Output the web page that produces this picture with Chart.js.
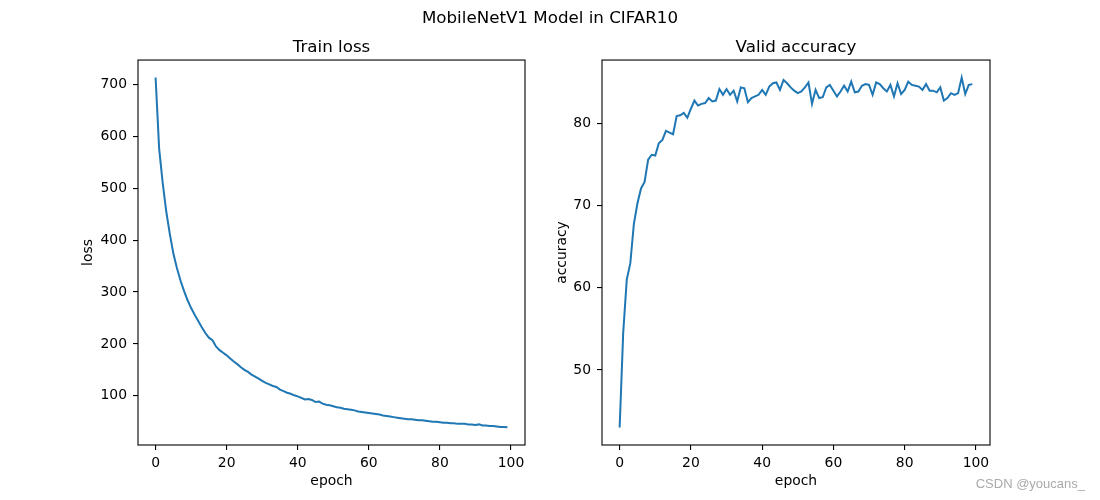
<!DOCTYPE html>
<html>
<head>
<meta charset="utf-8">
<script src="https://cdn.jsdelivr.net/npm/chart.js@4.4.0/dist/chart.umd.min.js"></script>
<style>
  body { margin: 0; background: #fff; }
  #marco { position: relative; width: 1100px; height: 500px; font-family: "DejaVu Sans"; }
  #titulo { position: absolute; top: 7px; left: 0; width: 1100px; text-align: center; font-size: 16.7px; line-height: 20px; color: #000; }
  #marca { position: absolute; top: 476px; right: 15px; font-family: "Liberation Sans"; font-size: 13px; color: #aaa; }
  canvas { position: absolute; top: 0; }
</style>
</head>
<body>
<div id="marco">
  <canvas id="graficoLoss" width="550" height="500" style="left:0px"></canvas>
  <canvas id="graficoAcc" width="550" height="500" style="left:550px"></canvas>
  <div id="titulo">MobileNetV1 Model in CIFAR10</div>
  <div id="marca">CSDN @youcans_</div>
</div>
<script>
// datos
var epocas = [];
for (let i = 0; i < 100; i++) { epocas.push(i); }

var trainLoss = [
  713, 576, 510, 455, 412, 374, 346, 322, 302, 284,
  269, 256, 244, 232, 221, 212, 207, 195, 188, 183,
  178, 172, 166, 161, 155, 150, 146, 141, 137, 133,
  129, 125, 122, 119, 117, 112, 109, 106, 104, 101,
  99, 96, 93, 94, 92, 88, 89, 85, 83, 82,
  80, 78, 77, 75, 74, 73, 72, 70, 69, 68,
  67, 66, 65, 64, 62, 61, 60, 59, 58, 57,
  56, 55, 55, 54, 53, 53, 52, 51, 50, 50,
  49, 48, 48, 47, 47, 46, 46, 46, 45, 45,
  44, 45, 43, 43, 42, 42, 41, 40, 40, 39.5
];

var validAcc = [
  43.0, 54.5, 61.0, 63.0, 67.8, 70.3, 72.1, 72.9, 75.6, 76.2,
  76.1, 77.6, 78.0, 79.1, 78.9, 78.7, 80.9, 81.0, 81.3, 80.7,
  81.8, 82.8, 82.2, 82.4, 82.5, 83.1, 82.7, 82.8, 84.2, 83.5,
  84.2, 83.5, 84.0, 82.7, 84.4, 84.3, 82.6, 83.1, 83.3, 83.5,
  84.1, 83.5, 84.5, 84.9, 85.0, 84.1, 85.3, 84.9, 84.4, 84.0,
  83.7, 83.9, 84.4, 85.0, 82.4, 84.1, 83.1, 83.2, 84.4, 84.7,
  84.0, 83.3, 83.9, 84.6, 83.9, 85.1, 83.8, 83.9, 84.6, 84.8,
  84.7, 83.5, 85.0, 84.8, 84.3, 83.9, 84.7, 83.3, 84.9, 83.6,
  84.1, 85.1, 84.7, 84.6, 84.5, 84.1, 84.8, 84.0, 84.0, 83.8,
  84.4, 82.8, 83.1, 83.7, 83.5, 83.7, 85.6, 83.6, 84.7, 84.8
];

var ticksEpoca = [0, 20, 40, 60, 80, 100];
var ticksLoss = [100, 200, 300, 400, 500, 600, 700];
var ticksAcc = [50, 60, 70, 80];

var azul = '#1f77b4';
var fuente = 'DejaVu Sans';

// marco negro alrededor del area (como matplotlib)
var marcoEjes = {
  id: 'marcoEjes',
  afterDraw: function (chart) {
    var a = chart.chartArea;
    var ctx = chart.ctx;
    ctx.save();
    ctx.strokeStyle = '#000';
    ctx.lineWidth = 1.1;
    ctx.strokeRect(a.left, a.top, a.right - a.left, a.bottom - a.top);
    ctx.restore();
  }
};

function puntos(xs, ys) {
  let res = [];
  for (let i = 0; i < xs.length; i++) {
    res.push({ x: xs[i], y: ys[i] });
  }
  return res;
}

function fijarTicks(lista) {
  return function (scale) {
    scale.ticks = lista.map(function (v) { return { value: v }; });
  };
}

function grafico(ctxRef, titulo, nombreY, valores, ticksY, yMin, yMax, anchoY, derecha, padTituloY) {
  return new Chart(ctxRef, {
    type: 'line',
    data: {
      datasets: [{
        data: puntos(epocas, valores),
        borderColor: azul,
        borderWidth: 2,
        pointRadius: 0,
        tension: 0,
        fill: false
      }]
    },
    plugins: [marcoEjes],
    options: {
      responsive: false,
      animation: false,
      devicePixelRatio: 1,
      layout: { padding: { left: 0, right: derecha, top: 0, bottom: 0 } },
      plugins: {
        legend: { display: false },
        tooltip: { enabled: false },
        title: {
          display: true,
          text: titulo,
          fullSize: false,
          color: '#000',
          font: { family: fuente, size: 16.7, weight: 'normal' },
          padding: { top: 38, bottom: 2 }
        }
      },
      scales: {
        x: {
          type: 'linear',
          min: -4.95,
          max: 103.95,
          afterBuildTicks: fijarTicks(ticksEpoca),
          afterFit: function (scale) { scale.height = 55; },
          border: { display: false },
          grid: { display: true, drawOnChartArea: false, drawTicks: true, tickLength: 5, color: '#000', lineWidth: 1.1 },
          ticks: { color: '#000', padding: 5, maxRotation: 0, font: { family: fuente, size: 13.9 } },
          title: { display: true, text: 'epoch', color: '#000', font: { family: fuente, size: 13.9 }, padding: { top: 0, bottom: 10 } }
        },
        y: {
          type: 'linear',
          min: yMin,
          max: yMax,
          afterBuildTicks: fijarTicks(ticksY),
          afterFit: function (scale) { scale.width = anchoY; },
          border: { display: false },
          grid: { display: true, drawOnChartArea: false, drawTicks: true, tickLength: 5, color: '#000', lineWidth: 1.1 },
          ticks: { color: '#000', padding: 6, font: { family: fuente, size: 13.9 } },
          title: { display: true, text: nombreY, color: '#000', font: { family: fuente, size: 13.9 }, padding: { top: padTituloY, bottom: 0 } }
        }
      }
    }
  });
}

var ctx1 = document.getElementById('graficoLoss').getContext('2d');
grafico(ctx1, 'Train loss', 'loss', trainLoss, ticksLoss, 5.3, 746.7, 138, 25, 80);

var ctx2 = document.getElementById('graficoAcc').getContext('2d');
grafico(ctx2, 'Valid accuracy', 'accuracy', validAcc, ticksAcc, 40.87, 87.73, 52, 110, 4);
</script>
</body>
</html>
